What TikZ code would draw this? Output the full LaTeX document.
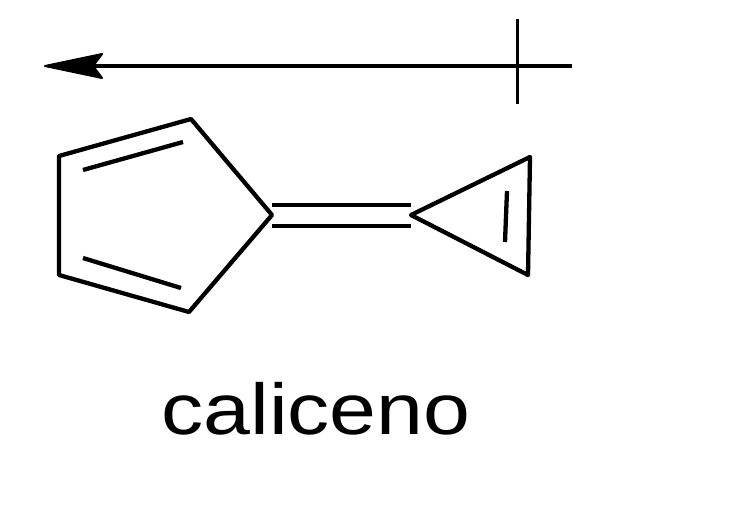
\documentclass[tikz,border=0pt]{standalone}
\usepackage{fontspec}
\setmainfont{Liberation Sans}
\tikzset{bond/.style={line width=4.3pt}, thinbond/.style={line width=3pt}}
\begin{document}
\begin{tikzpicture}[x=1pt,y=-1pt,every node/.style={inner sep=0pt}]
	\useasboundingbox[fill=white] (0,0) rectangle (738,508);
	\coordinate (tip)	at (45,66);
	\coordinate (tail)	at (572,66);
	\coordinate (top)	at (517,19);
	\coordinate (bot)	at (517,104);
	\coordinate (a)		at (191,119);
	\coordinate (b)		at (59,156);
	\coordinate (c)		at (59,275);
	\coordinate (d)		at (189,312);
	\coordinate (e)		at (272,215);
	\coordinate (f)		at (411,215);
	\coordinate (g)		at (530,157);
	\coordinate (h)		at (528,275);
	\node[xscale=1.17, anchor=base] (name) at (316,434) {\fontsize{72}{72}\selectfont caliceno};

	\draw[bond] (tail) -- (90,66);
	\draw[thinbond] (top) -- (bot);
	\fill[draw, line width=2pt, line join=round] (tip) -- (102,54) -- (93,66) -- (102,78) -- cycle;

	\draw[bond, line join=round] (a) -- (b) -- (c) -- (d) -- (e) -- cycle;
	\draw[bond] (83,170) -- (183,142);
	\draw[bond] (83,258) -- (181,288);
	\draw[bond] (272,205) -- (411,205);
	\draw[bond] (272,226) -- (411,226);
	\draw[bond, line join=round] (f) -- (g) -- (h) -- cycle;
	\draw[bond] (507,191) -- (505,242);
\end{tikzpicture}
\end{document}
